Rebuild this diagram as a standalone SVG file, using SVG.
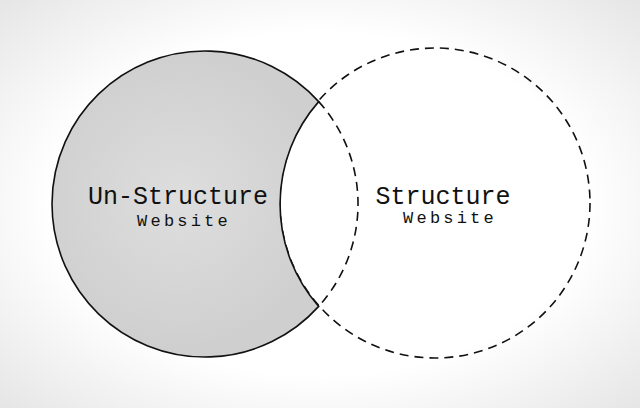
<svg xmlns="http://www.w3.org/2000/svg" width="640" height="408" viewBox="0 0 640 408">
<defs>
<radialGradient id="bg" cx="50%" cy="50%" r="70%"><stop offset="0.6" stop-color="#ffffff"/><stop offset="1" stop-color="#e6e6e6"/></radialGradient>
<radialGradient id="fill" cx="180" cy="200" r="150" gradientUnits="userSpaceOnUse"><stop offset="0" stop-color="#dedede"/><stop offset="1" stop-color="#cfcfcf"/></radialGradient>
<style>
.ln{fill:none;stroke:#111;stroke-width:1.6}
.ds{stroke-dasharray:9 6}
.t{font-family:"Liberation Mono",monospace;fill:#111;text-anchor:middle;font-weight:300}
.w{font-size:17px;letter-spacing:3.2px}
</style>
</defs>
<rect width="640" height="408" fill="url(#bg)"/>
<g id="connectors">
<circle class="ln ds" cx="435" cy="203" r="155"/>
<path class="ln ds" d="M318.7 101.6 A153 153 0 0 1 318.7 306.4"/>
</g>
<g id="unstructure">
<path d="M318.7 101.6 A153 153 0 1 0 318.7 306.4 A155 155 0 0 1 318.7 101.6 Z" class="ln" style="fill:url(#fill)"/>
<text class="t" x="178" y="204" font-size="25">Un-Structure</text>
<text class="t w" x="184" y="226">Website</text>
</g>
<g id="structure">
<text class="t" x="443" y="204" font-size="25">Structure</text>
<text class="t w" x="450" y="223">Website</text>
</g>
</svg>
